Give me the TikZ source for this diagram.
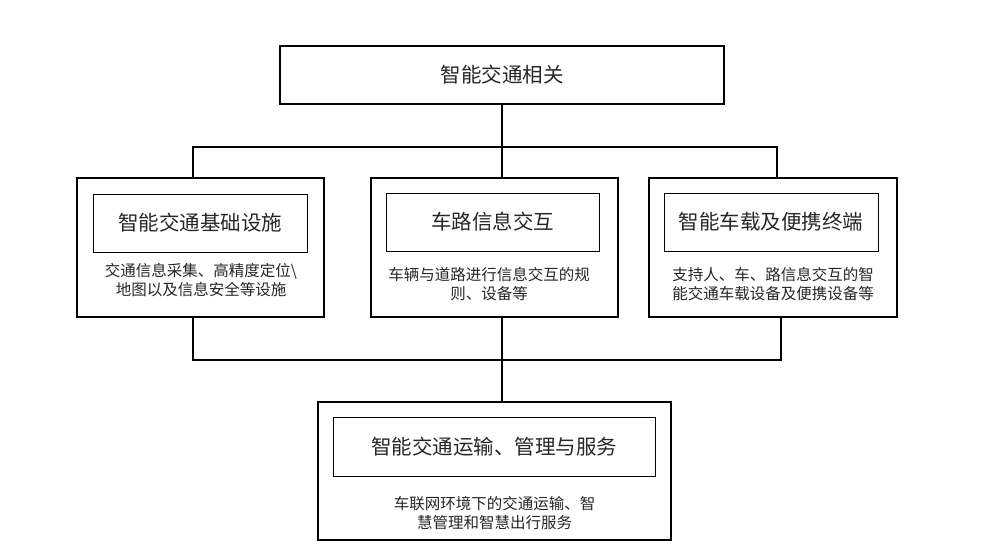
\documentclass[tikz,border=0pt]{standalone}
\usepackage{fontspec}
\setmainfont{Noto Sans CJK SC}
\begin{document}
\begin{tikzpicture}[x=1pt,y=-1pt,
  outerbox/.style={draw=black,line width=1.7pt,rectangle,inner sep=0pt},
  innerbox/.style={draw=black,line width=0.9pt,rectangle,inner sep=0pt,
    font=\fontsize{20.5}{24}\selectfont,text=black!85},
  desc/.style={align=center,inner sep=0pt,font=\fontsize{15.5}{19.5}\selectfont,text=black!85},
  conn/.style={line width=1.7pt,line join=miter}]
\useasboundingbox (0,0) rectangle (981,552);
\node[outerbox,minimum width=444pt,minimum height=58pt,font=\fontsize{20.5}{24}\selectfont,text=black!85] (top) at (502,75) {智能交通相关};
% three boxes
\node[outerbox,minimum width=247pt,minimum height=139pt] (L) at (200.5,247.5) {};
\node[outerbox,minimum width=247pt,minimum height=139pt] (M) at (494.5,247.5) {};
\node[outerbox,minimum width=248pt,minimum height=139pt] (R) at (773,247.5) {};
\node[innerbox,minimum width=214pt,minimum height=58pt] (Li) at (200,223) {智能交通基础设施};
\node[innerbox,minimum width=213pt,minimum height=58pt] (Mi) at (492.5,222) {车路信息交互};
\node[innerbox,minimum width=214pt,minimum height=58pt] (Ri) at (771,222) {智能车载及便携终端};
\node[desc] (Ld) at (201,280) {交通信息采集、高精度定位\textbackslash\\地图以及信息安全等设施};
\node[desc] (Md) at (489,284) {车辆与道路进行信息交互的规\\则、设备等};
\node[desc] (Rd) at (773,284) {支持人、车、路信息交互的智\\能交通车载设备及便携设备等};
% bottom box
\node[outerbox,minimum width=353pt,minimum height=138pt] (B) at (494.5,471) {};
\node[innerbox,minimum width=322pt,minimum height=59pt] (Bi) at (494,446.5) {智能交通运输、管理与服务};
\node[desc] (Bd) at (494.5,513) {车联网环境下的交通运输、智\\慧管理和智慧出行服务};
% connectors
\coordinate (hl) at (193,147);
\coordinate (hr) at (777,147);
\coordinate (bl) at (193,360);
\coordinate (br) at (781,360);
\draw[conn] (top.south) -- (top.south|-M.north);
\draw[conn] (hl|-L.north) -- (hl) -- (hr) -- (hr|-R.north);
\draw[conn] (bl|-L.south) -- (bl) -- (br) -- (br|-R.south);
\draw[conn] (top.south|-M.south) -- (top.south|-B.north);
\end{tikzpicture}
\end{document}
